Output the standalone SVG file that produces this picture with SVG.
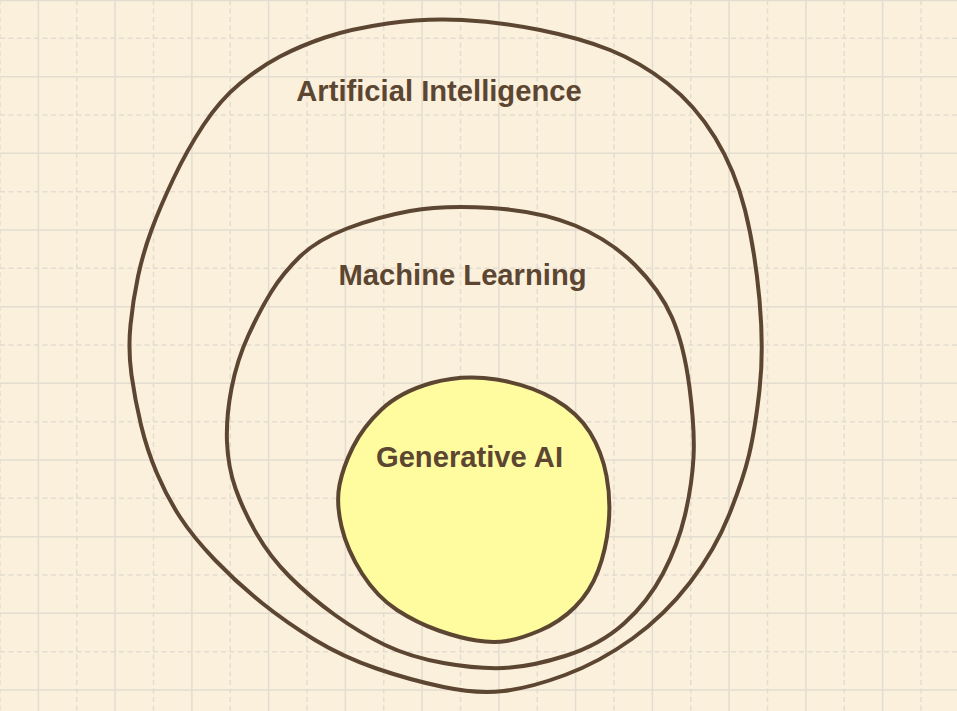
<svg xmlns="http://www.w3.org/2000/svg" width="957" height="711" viewBox="0 0 957 711">
<style>
.grid-solid{fill:none;stroke:#E3DCD0;stroke-width:1.5}
.grid-dash{fill:none;stroke:#E3DCD0;stroke-width:1.5;stroke-dasharray:5 3.5}
.set{stroke:#5C4632;stroke-width:4;stroke-linejoin:round}
.label{font-family:"Liberation Sans",Arial,sans-serif;font-weight:bold;font-size:29.2px;fill:#5C4632;text-anchor:middle}
</style>
<rect x="0" y="0" width="957" height="711" fill="#FAF0DC"/>
<g id="grid">
<path class="grid-dash" d="M0,0V711 M76.75,0V711 M153.5,0V711 M230.25,0V711 M307,0V711 M383.75,0V711 M460.5,0V711 M537.25,0V711 M614,0V711 M690.75,0V711 M767.5,0V711 M844.25,0V711 M921,0V711 M0,38.3H957 M0,115H957 M0,191.7H957 M0,268.3H957 M0,345H957 M0,421.7H957 M0,498.3H957 M0,575H957 M0,651.7H957"/>
<path class="grid-solid" d="M38.4,0V711 M115.1,0V711 M191.9,0V711 M268.6,0V711 M345.4,0V711 M422.1,0V711 M498.9,0V711 M575.6,0V711 M652.4,0V711 M729.1,0V711 M805.9,0V711 M882.6,0V711 M0,0.5H957 M0,76.7H957 M0,153.3H957 M0,230H957 M0,306.7H957 M0,383.3H957 M0,460H957 M0,536.7H957 M0,613.3H957 M0,690H957"/>
</g>
<g id="artificial-intelligence">
<path class="set" fill="none" d="M387.5,23.5 Q425,18 462.5,20 Q500,22 540,30 Q580,38 610,50 Q640,62 667.5,83.5 Q695,105 715,137.5 Q735,170 745,210 Q755,250 759.5,300 Q764,350 759.5,390 Q755,430 749,455 Q743,480 729,515 Q715,550 690,582.5 Q665,615 632.5,638.5 Q600,662 565,675 Q530,688 503.5,691 Q477,694 443.5,687 Q410,680 376.5,668.5 Q343,657 315,640 Q287,623 262,603 Q237,583 215,560 Q193,537 180,517 Q167,497 157,473.5 Q147,450 141,425 Q135,400 131.5,375 Q128,350 130.5,325 Q133,300 138,276.5 Q143,253 151.5,230 Q160,207 173.5,178.5 Q187,150 203.5,125 Q220,100 240,83.5 Q260,67 280,56.5 Q300,46 325,37.5 Q350,29 387.5,23.5 Z"/>
<text class="label" x="439" y="100.5">Artificial Intelligence</text>
</g>
<g id="machine-learning">
<path class="set" fill="none" d="M410,211 Q443,205 491.5,208 Q540,211 575,225.5 Q610,240 635,265 Q660,290 672,317.5 Q684,345 689.5,387.5 Q695,430 693.5,457.5 Q692,485 685,515 Q678,545 663,573.5 Q648,602 624,623.5 Q600,645 565,656 Q530,667 503.5,668 Q477,669 443.5,663 Q410,657 385,645 Q360,633 335,615 Q310,597 290,577 Q270,557 256.5,533.5 Q243,510 235.5,488.5 Q228,467 227,442 Q226,417 231.5,388.5 Q237,360 248.5,335 Q260,310 271.5,291.5 Q283,273 300,256.5 Q317,240 347,228.5 Q377,217 410,211 Z"/>
<text class="label" x="462.5" y="285">Machine Learning</text>
</g>
<g id="generative-ai">
<path class="set" fill="#FFFCA0" d="M431.5,383 Q463,374 496.5,379.5 Q530,385 554,399 Q578,413 590,432.5 Q602,452 606.5,476 Q611,500 608.5,525 Q606,550 598,571 Q590,592 575,607 Q560,622 540,630.5 Q520,639 506.5,641 Q493,643 476.5,640.5 Q460,638 438.5,630.5 Q417,623 397,610 Q377,597 362,573.5 Q347,550 341.5,526.5 Q336,503 339.5,485 Q343,467 353,447 Q363,427 381.5,409.5 Q400,392 431.5,383 Z"/>
<text class="label" x="469.5" y="466.5">Generative AI</text>
</g>
<g id="connectors"/>
</svg>
